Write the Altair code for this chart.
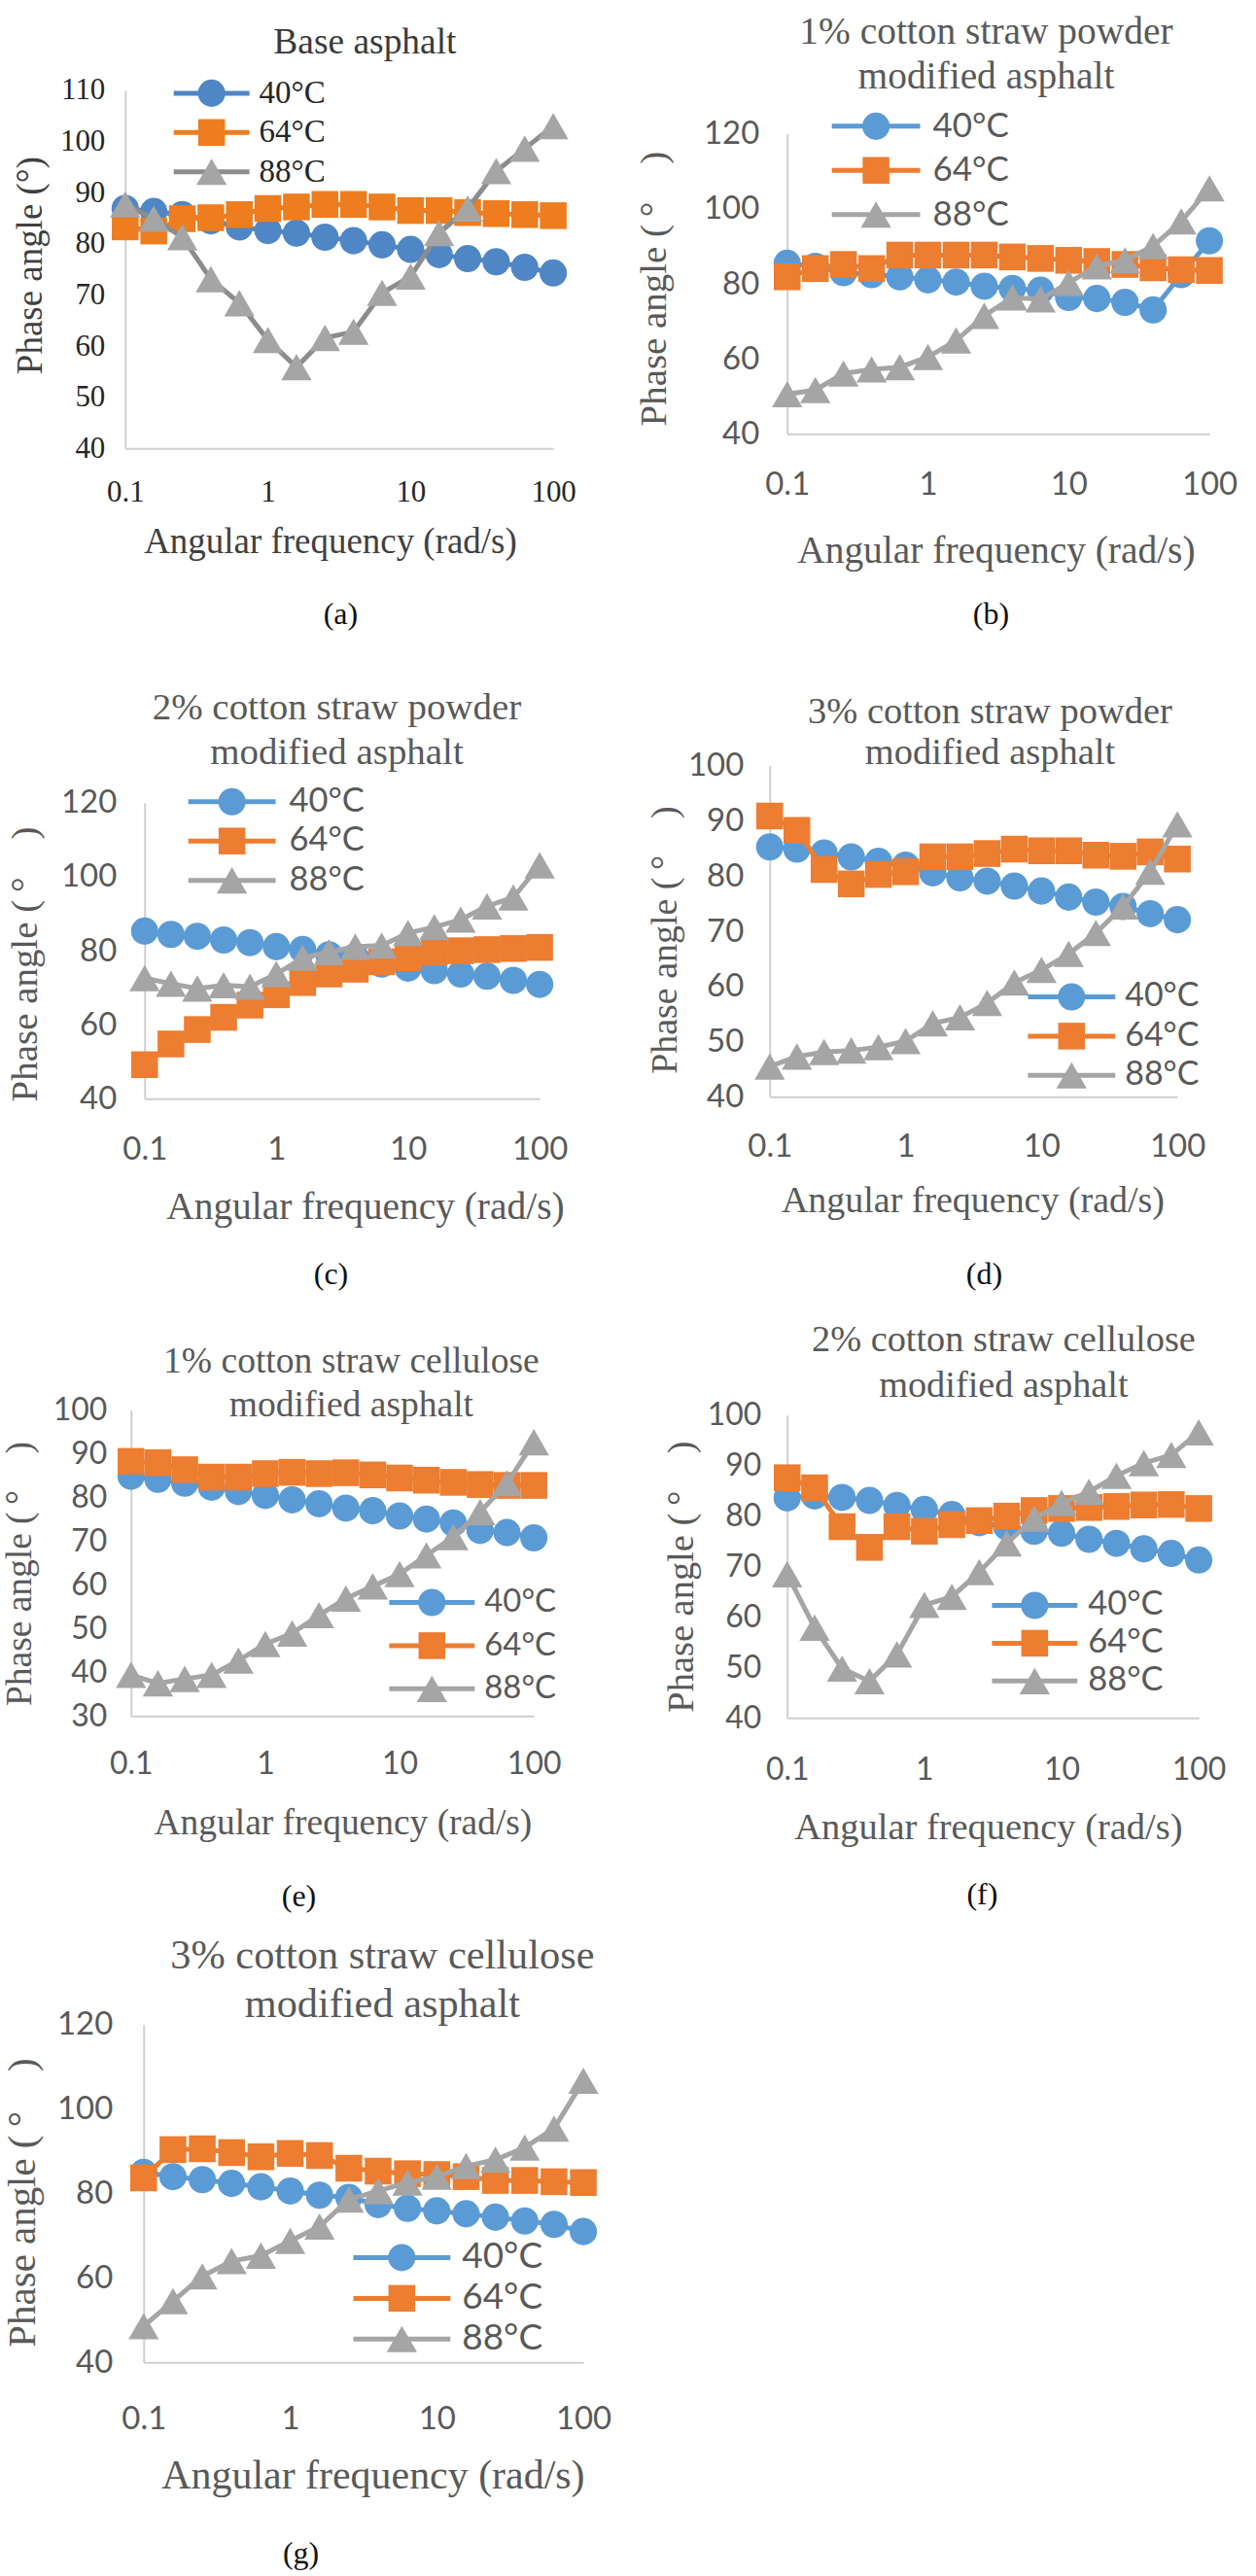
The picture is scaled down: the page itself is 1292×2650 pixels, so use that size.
import altair as alt
import pandas as pd

# Angular frequency sweep (rad/s), five points per decade
FREQ = [0.1, 0.1585, 0.2512, 0.3981, 0.631, 1.0, 1.585, 2.512, 3.981,
        6.31, 10.0, 15.85, 25.12, 39.81, 63.1, 100.0]
SERIES = ["40°C", "64°C", "88°C"]

# Phase angle (degrees) per test temperature
BASE_40 = [86.9, 86.3, 85.7, 84.5, 83.3, 82.6, 82.1, 81.3, 80.6, 79.8, 78.9, 77.9, 77.1, 76.5, 75.4, 74.3]
BASE_64 = [83.3, 82.5, 84.9, 85.1, 85.7, 86.9, 87.2, 87.7, 87.7, 87.2, 86.5, 86.5, 86.1, 85.9, 85.7, 85.5]
BASE_88 = [87.7, 84.9, 81.3, 73.1, 68.4, 61.2, 55.9, 61.6, 62.8, 70.4, 73.6, 82.1, 86.9, 94.2, 98.6, 103.0]

P1_40 = [85.5, 84.7, 83.0, 82.5, 81.9, 81.1, 80.5, 79.4, 78.8, 78.3, 76.4, 76.1, 75.1, 73.1, 82.5, 91.5]
P1_64 = [81.9, 84.1, 85.2, 84.1, 87.7, 87.7, 87.7, 87.7, 87.2, 86.8, 86.3, 86.0, 85.2, 84.3, 83.8, 83.6]
P1_88 = [50.6, 51.7, 56.1, 57.2, 57.8, 60.5, 64.9, 71.5, 76.4, 75.9, 80.3, 84.7, 86.3, 90.1, 96.7, 105.5]

P2_40 = [85.3, 84.4, 83.9, 82.9, 82.2, 81.1, 80.3, 78.9, 78.4, 76.4, 75.3, 74.6, 73.7, 73.1, 72.0, 70.9]
P2_64 = [49.2, 54.8, 58.7, 62.0, 65.3, 68.1, 71.4, 73.7, 75.0, 77.0, 78.1, 79.6, 80.0, 80.3, 80.6, 80.9]
P2_88 = [72.6, 71.1, 69.8, 70.7, 70.3, 73.7, 78.1, 79.6, 81.1, 81.4, 84.8, 86.4, 88.4, 92.0, 94.4, 103.1]

P3_40 = [85.3, 84.9, 84.2, 83.5, 82.7, 82.0, 80.6, 79.7, 79.1, 78.2, 77.3, 76.2, 75.3, 74.5, 73.2, 72.1]
P3_64 = [90.9, 88.3, 81.2, 78.6, 80.3, 80.8, 83.5, 83.5, 84.1, 84.9, 84.6, 84.6, 83.8, 83.6, 84.4, 83.1]
P3_88 = [45.5, 47.3, 48.1, 48.4, 49.0, 50.1, 53.3, 54.4, 57.0, 60.7, 63.0, 65.9, 69.7, 74.5, 80.8, 89.4]

C1_40 = [84.9, 84.2, 83.3, 82.4, 81.4, 80.5, 79.5, 78.6, 77.6, 77.0, 75.8, 75.1, 74.2, 72.5, 72.0, 70.8]
C1_64 = [88.3, 88.0, 86.4, 84.7, 84.7, 85.5, 85.8, 85.5, 85.7, 85.2, 84.5, 84.0, 83.5, 83.0, 82.8, 82.8]
C1_88 = [39.4, 37.5, 38.5, 39.4, 42.7, 46.5, 48.9, 53.1, 56.9, 59.7, 62.5, 66.8, 71.0, 76.7, 83.3, 92.7]

C2_40 = [83.6, 84.0, 83.7, 83.1, 82.1, 81.3, 80.3, 78.7, 77.9, 77.0, 76.6, 75.4, 74.6, 73.5, 72.6, 71.3]
C2_64 = [87.6, 85.6, 77.9, 73.8, 77.9, 77.0, 78.3, 79.1, 80.0, 81.1, 81.5, 81.7, 81.9, 82.2, 82.3, 81.5]
C2_88 = [68.5, 57.9, 49.8, 47.3, 52.6, 62.4, 64.0, 68.9, 74.6, 79.5, 82.6, 84.8, 88.0, 90.5, 92.1, 96.6]

C3_40 = [85.0, 84.0, 83.3, 82.4, 81.6, 80.6, 79.6, 79.1, 77.4, 76.5, 75.9, 75.2, 74.4, 73.5, 72.7, 71.0]
C3_64 = [83.7, 90.4, 90.6, 89.7, 88.7, 89.5, 89.0, 86.0, 85.3, 84.7, 84.5, 84.0, 83.1, 83.1, 82.8, 82.6]
C3_88 = [48.6, 54.5, 60.4, 64.0, 65.3, 68.8, 72.2, 78.6, 80.6, 82.6, 84.0, 86.5, 88.0, 90.9, 95.4, 106.7]

SERIF = "Liberation Serif"
SANS = "Lato"
AXIS_COLOR = "#cfcfcf"
X_TITLE = "Angular frequency (rad/s)"
Y_TITLE_PLAIN = "Phase angle (°)"
Y_TITLE_WIDE = "Phase angle (\u2009°\u2003)"

EXCEL_COLORS = {"line": ["#5B9BD5", "#ED7D31", "#A5A5A5"],
                "mark": ["#5B9BD5", "#ED7D31", "#A5A5A5"]}
BASE_COLORS = {"line": ["#4F86C6", "#ED7D1F", "#8C8C8C"],
               "mark": ["#4F86C6", "#ED7D1F", "#A5A5A5"]}
SHAPES = ["circle", "square", "triangle-up"]
SIZES = [790, 760, 980]

# Each panel sits in a fixed cell of the 2-column page grid
CELL_W, CELL_H = 646, 660

# Page layout of every panel (absolute pixel positions on the page)
PANELS = [
    dict(title=["Base asphalt"], caption="(a)", data=(BASE_40, BASE_64, BASE_88),
         left=128, top=90, w=441, h=369, ydom=(40, 110), ystep=10, serif=True, colors=BASE_COLORS,
         title_pos=[(375, 41)], title_fs=37.5, title_color="#3a3a3a",
         xt=(339, 555), xt_fs=37, yt=(31, 270), yt_fs=37, ytitle=Y_TITLE_PLAIN, axis_title_color="#404040",
         xlab_y=504, ylab_r=107, tick_fs=31, tick_color="#262626",
         leg=(178, 256, 266, 93, 40.5), leg_fs=33, cap=(350, 630)),
    dict(title=["1% cotton straw powder", "modified asphalt"], caption="(b)", data=(P1_40, P1_64, P1_88),
         left=810, top=135, w=435, h=309, ydom=(40, 120), ystep=20, serif=False, colors=EXCEL_COLORS,
         title_pos=[(1015, 30), (1015, 76)], title_fs=39.5, title_color="#595959",
         xt=(1025, 564), xt_fs=39.5, yt=(673, 294), yt_fs=39, ytitle=Y_TITLE_WIDE, axis_title_color="#595959",
         xlab_y=496, ylab_r=781, tick_fs=33, tick_color="#595959",
         leg=(856, 947, 960, 127, 45.5), leg_fs=35, cap=(1020, 630)),
    dict(title=["2% cotton straw powder", "modified asphalt"], caption="(c)", data=(P2_40, P2_64, P2_88),
         left=148, top=824, w=407, h=305, ydom=(40, 120), ystep=20, serif=False, colors=EXCEL_COLORS,
         title_pos=[(346, 726), (346, 772)], title_fs=39, title_color="#595959",
         xt=(375, 1240), xt_fs=39.5, yt=(25, 990), yt_fs=39, ytitle=Y_TITLE_WIDE, axis_title_color="#595959",
         xlab_y=1181, ylab_r=119, tick_fs=33, tick_color="#595959",
         leg=(193, 283, 297, 823, 40.5), leg_fs=34.5, cap=(340, 1310)),
    dict(title=["3% cotton straw powder", "modified asphalt"], caption="(d)", data=(P3_40, P3_64, P3_88),
         left=792, top=786, w=420, h=341, ydom=(40, 100), ystep=10, serif=False, colors=EXCEL_COLORS,
         title_pos=[(1019, 730), (1019, 772)], title_fs=38.5, title_color="#595959",
         xt=(1001, 1234), xt_fs=38, yt=(685, 965), yt_fs=38, ytitle=Y_TITLE_WIDE, axis_title_color="#595959",
         xlab_y=1178, ylab_r=765, tick_fs=33, tick_color="#595959",
         leg=(1058, 1148, 1158, 1024, 40.5), leg_fs=34, cap=(1013, 1310)),
    dict(title=["1% cotton straw cellulose", "modified asphalt"], caption="(e)", data=(C1_40, C1_64, C1_88),
         left=134, top=1450, w=415, h=315, ydom=(30, 100), ystep=10, serif=False, colors=EXCEL_COLORS,
         title_pos=[(361, 1400), (361, 1445)], title_fs=37.6, title_color="#595959",
         xt=(352, 1875), xt_fs=37.5, yt=(20, 1618), yt_fs=37.5, ytitle=Y_TITLE_WIDE, axis_title_color="#595959",
         xlab_y=1814, ylab_r=109, tick_fs=32, tick_color="#595959",
         leg=(400, 488, 498, 1648, 44.5), leg_fs=33, cap=(307, 1951)),
    dict(title=["2% cotton straw cellulose", "modified asphalt"], caption="(f)", data=(C2_40, C2_64, C2_88),
         left=810, top=1455, w=424, h=312, ydom=(40, 100), ystep=10, serif=False, colors=EXCEL_COLORS,
         title_pos=[(1033, 1377), (1033, 1424)], title_fs=38.4, title_color="#595959",
         xt=(1017, 1879), xt_fs=38.5, yt=(701, 1621), yt_fs=38.5, ytitle=Y_TITLE_WIDE, axis_title_color="#595959",
         xlab_y=1820, ylab_r=783, tick_fs=32, tick_color="#595959",
         leg=(1021, 1109, 1120, 1651, 39), leg_fs=34.5, cap=(1011, 1949)),
    dict(title=["3% cotton straw cellulose", "modified asphalt"], caption="(g)", data=(C3_40, C3_64, C3_88),
         left=147, top=2083, w=453, h=348, ydom=(40, 120), ystep=20, serif=False, colors=EXCEL_COLORS,
         title_pos=[(393, 2012), (393, 2062)], title_fs=42.4, title_color="#595959",
         xt=(383, 2547), xt_fs=42, yt=(23, 2266), yt_fs=41, ytitle=Y_TITLE_WIDE, axis_title_color="#595959",
         xlab_y=2489, ylab_r=115, tick_fs=33, tick_color="#595959",
         leg=(363, 463, 475, 2323, 42), leg_fs=37, cap=(309, 2628)),
]

ONE_ROW = alt.Data(values=[{"k": 0}])


def text_layer(text, x, y, font, size, color, align="center"):
    return alt.Chart(ONE_ROW).mark_text(
        text=text, font=font, fontSize=size, color=color, align=align, baseline="middle"
    ).encode(x=alt.value(x), y=alt.value(y))


def build_panel(p, cx0, cy0):
    L, T, W, H = p["left"], p["top"], p["w"], p["h"]
    pl, pr = L - cx0, L + W - cx0          # plot edges inside the cell
    pt, pb = T - cy0, T + H - cy0
    lab_font = SERIF if p["serif"] else SANS
    lo, hi = p["ydom"]

    x_enc = alt.X(
        "freq:Q",
        scale=alt.Scale(type="log", domain=[0.1, 100], nice=False, range=[pl, pr]),
        axis=alt.Axis(
            values=[0.1, 1, 10, 100], format="~g", ticks=False, tickSize=0, grid=False,
            offset=pb - CELL_H, domainColor=AXIS_COLOR, domainWidth=2,
            labelFont=lab_font, labelFontSize=p["tick_fs"], labelColor=p["tick_color"],
            labelBaseline="middle", labelPadding=p["xlab_y"] - (T + H),
            labelFlush=False, labelOverlap=False,
            title=X_TITLE, titleFont=SERIF, titleFontSize=p["xt_fs"], titleFontWeight="normal",
            titleColor=p["axis_title_color"], titleX=p["xt"][0] - cx0, titleY=p["xt"][1] - (T + H),
            titleAlign="center", titleBaseline="middle",
        ),
    )
    y_enc = alt.Y(
        "val:Q",
        scale=alt.Scale(domain=[lo, hi], nice=False, zero=False, range=[pb, pt]),
        axis=alt.Axis(
            values=list(range(lo, hi + 1, p["ystep"])), ticks=False, tickSize=0, grid=False,
            offset=-pl, domainColor=AXIS_COLOR, domainWidth=2,
            labelFont=lab_font, labelFontSize=p["tick_fs"], labelColor=p["tick_color"],
            labelPadding=L - p["ylab_r"], labelOverlap=False, labelFlush=False,
            title=p["ytitle"], titleFont=SERIF, titleFontSize=p["yt_fs"], titleFontWeight="normal",
            titleColor=p["axis_title_color"], titleX=p["yt"][0] - L, titleY=p["yt"][1] - cy0,
            titleAngle=270, titleAlign="center", titleBaseline="middle",
        ),
    )

    layers = []
    for i, name in enumerate(SERIES):
        df = pd.DataFrame({"freq": FREQ, "val": p["data"][i], "series": name})
        layers.append(
            alt.Chart(df).mark_line(color=p["colors"]["line"][i], strokeWidth=5).encode(x=x_enc, y=y_enc)
        )
        layers.append(
            alt.Chart(df).mark_point(
                shape=SHAPES[i], filled=True, size=SIZES[i], opacity=1, color=p["colors"]["mark"][i]
            ).encode(x=x_enc, y=y_enc)
        )

    # legend: line segment with marker, then the label
    x0, x1, tx, y0, dy = p["leg"]
    for i, name in enumerate(SERIES):
        yy = y0 + i * dy - cy0
        layers.append(
            alt.Chart(ONE_ROW).mark_rule(color=p["colors"]["line"][i], strokeWidth=5).encode(
                x=alt.value(x0 - cx0), x2=alt.value(x1 - cx0), y=alt.value(yy)
            )
        )
        layers.append(
            alt.Chart(ONE_ROW).mark_point(
                shape=SHAPES[i], filled=True, size=SIZES[i], opacity=1, color=p["colors"]["mark"][i]
            ).encode(x=alt.value((x0 + x1) / 2 - cx0), y=alt.value(yy))
        )
        layers.append(
            text_layer(name, tx - cx0, yy, lab_font, p["leg_fs"], p["tick_color"], align="left")
        )

    for line, (tx_, ty_) in zip(p["title"], p["title_pos"]):
        layers.append(text_layer(line, tx_ - cx0, ty_ - cy0, SERIF, p["title_fs"], p["title_color"]))

    capx, capy = p["cap"]
    layers.append(text_layer(p["caption"], capx - cx0, capy - cy0, SERIF, 32, "#111111"))

    return alt.layer(*layers).properties(width=CELL_W, height=CELL_H)


cells = []
for k, p in enumerate(PANELS):
    col, row = k % 2, k // 2
    cells.append(build_panel(p, col * CELL_W, row * CELL_H))

chart = alt.concat(
    *cells, columns=2, spacing=0, bounds="flush"
).properties(
    padding=0, background="white"
).configure_view(stroke="transparent")

chart.save("out.html", embed_options={"renderer": "svg", "actions": False})
